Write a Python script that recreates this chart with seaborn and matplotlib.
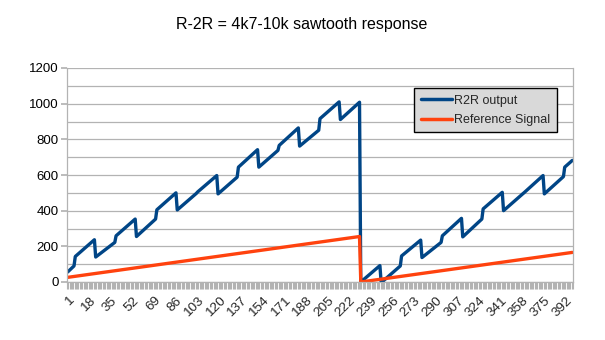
import matplotlib
matplotlib.use("Agg")
import matplotlib.pyplot as plt
import seaborn as sns
import pandas as pd
import numpy as np
from matplotlib.ticker import FixedLocator, MultipleLocator

# ---- data: sample index of each vertex and the value read at it ----
n_samples = 397
r2r_index = [1, 6, 7, 22, 23, 38, 39, 54, 55, 70, 71, 86, 87, 102, 103, 118, 119,
             134, 135, 150, 151, 166, 167, 182, 183, 198, 199, 214, 215, 230, 231,
             246, 247, 262, 263, 278, 279, 294, 295, 310, 311, 326, 327, 342, 343,
             358, 359, 374, 375, 390, 391, 397]
r2r_value = [56, 90, 143, 237, 140, 222, 259, 353, 255, 353, 405, 500, 404, 497, 505, 597, 494,
             588, 644, 742, 644, 738, 766, 864, 762, 851, 916, 1010, 911, 1008, 0,
             92, -4, 90, 146, 235, 137, 222, 259, 357, 253, 353, 410, 503, 400,
             494, 500, 597, 494, 591, 644, 682]
ref_index = [1, 230, 231, 397]
ref_value = [26, 255, 0, 166]
tick_labels = [str(v) for v in range(1, 393, 17)]
y_ticks = [0, 200, 400, 600, 800, 1000, 1200]

df = pd.concat([
    pd.DataFrame({"sample": r2r_index, "value": r2r_value, "series": "R2R output"}),
    pd.DataFrame({"sample": ref_index, "value": ref_value, "series": "Reference Signal"}),
], ignore_index=True)

sns.set_theme(style="white")
plt.rcParams["font.family"] = ["Liberation Sans", "DejaVu Sans"]

fig = plt.figure(figsize=(6.05, 3.40), dpi=100)
ax = fig.add_axes([67/605, 1-282/340, 506/605, 214/340])

palette = {"R2R output": "#004586", "Reference Signal": "#ff420e"}
sns.lineplot(data=df, x="sample", y="value", hue="series", palette=palette,
             linewidth=2.4, ax=ax, sort=False, estimator=None)

ax.set_xlim(0.5, n_samples + 0.5)
ax.set_ylim(0, 1200)
ax.set_xlabel("")
ax.set_ylabel("")

# y axis
ax.yaxis.set_major_locator(FixedLocator(y_ticks))
ax.yaxis.set_minor_locator(MultipleLocator(100))
ax.grid(which="both", axis="y", color="#b3b3b3", linewidth=0.9)
ax.set_axisbelow(True)
ax.tick_params(axis="y", which="major", length=4, color="#b3b3b3", labelsize=9.5,
               labelcolor="black", pad=2, left=True)
ax.tick_params(axis="y", which="minor", length=0)

# x axis: category ticks
major_pos = [int(t) for t in tick_labels]
ax.xaxis.set_major_locator(FixedLocator(major_pos))
ax.set_xticklabels(tick_labels, rotation=45, ha="right", rotation_mode="anchor")
ax.xaxis.set_minor_locator(FixedLocator(np.arange(0.5, n_samples + 1, 1.0)))
ax.tick_params(axis="x", which="major", length=0, labelsize=9.7, pad=9, bottom=True)
ax.tick_params(axis="x", which="minor", length=5, width=0.8, color="#b3b3b3", bottom=True)

for side in ["left", "right", "bottom"]:
    ax.spines[side].set_visible(True)
    ax.spines[side].set_color("#b3b3b3")
    ax.spines[side].set_linewidth(0.9)
ax.spines["top"].set_visible(False)

leg = ax.legend(loc="upper right", bbox_to_anchor=(0.968, 0.905), borderaxespad=0,
                frameon=True, fancybox=False, facecolor="#d9d9d9", edgecolor="black",
                framealpha=1, fontsize=9.0, handlelength=2.5, handletextpad=0.2,
                borderpad=0.5, labelspacing=0.6, title=None)
leg.get_frame().set_linewidth(1.0)
for line in leg.get_lines():
    line.set_linewidth(2.5)

fig.text(302/605, 1-25/340, "R-2R = 4k7-10k sawtooth response", ha="center", va="center",
         fontsize=11.5, color="black")

fig.savefig("out.png", dpi=100, facecolor="white")
